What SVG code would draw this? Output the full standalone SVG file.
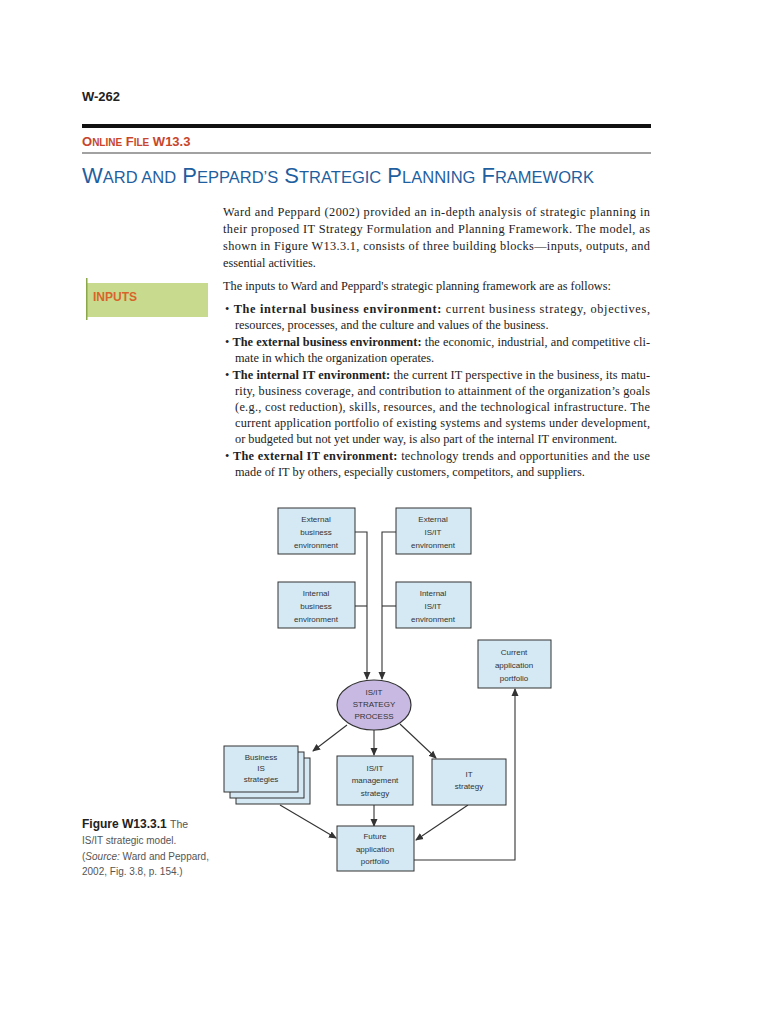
<svg xmlns="http://www.w3.org/2000/svg" width="768" height="1024" viewBox="0 0 768 1024">
<defs>
<marker id="ah" markerWidth="8" markerHeight="8" refX="7" refY="4" orient="auto" markerUnits="userSpaceOnUse"><path d="M0,0.5 L8,4 L0,7.5 Z" fill="#333"/></marker>
<style>
.b{font-family:"Liberation Serif",serif;font-size:12.3px;fill:#222}
.bb{font-weight:bold}
.h{font-family:"Liberation Sans",sans-serif}
.box{fill:#d4e9f4;stroke:#333;stroke-width:1}
.nt{font-family:"Liberation Sans",sans-serif;font-size:8px;fill:#333;text-anchor:middle}
.cn{fill:none;stroke:#333;stroke-width:1.1}
.cap{font-family:"Liberation Sans",sans-serif;font-size:10px;fill:#555}
</style>
</defs>
<rect width="768" height="1024" fill="#fff"/>
<text x="82" y="101" class="h" font-size="13" font-weight="bold" fill="#222">W-262</text>
<rect x="82" y="124" width="569" height="4" fill="#111"/>
<text x="82" y="146" class="h" font-weight="bold" fill="#c8462b" font-size="13">O<tspan font-size="10">NLINE</tspan> F<tspan font-size="10">ILE</tspan> W13.3</text>
<rect x="82" y="152.5" width="569" height="1" fill="#444"/>
<text x="82" y="183" class="h" fill="#1f5fa0" font-size="22">W<tspan font-size="16.5">ARD AND</tspan> P<tspan font-size="16.5">EPPARD’S</tspan> S<tspan font-size="16.5">TRATEGIC</tspan> P<tspan font-size="16.5">LANNING</tspan> F<tspan font-size="16.5">RAMEWORK</tspan></text>
<g class="b">
<text x="223" y="216" textLength="427" lengthAdjust="spacing">Ward and Peppard (2002) provided an in-depth analysis of strategic planning in</text>
<text x="223" y="233" textLength="427" lengthAdjust="spacing">their proposed IT Strategy Formulation and Planning Framework. The model, as</text>
<text x="223" y="250" textLength="427" lengthAdjust="spacing">shown in Figure W13.3.1, consists of three building blocks—inputs, outputs, and</text>
<text x="223" y="267">essential activities.</text>
<text x="223" y="290">The inputs to Ward and Peppard's strategic planning framework are as follows:</text>
<text x="225" y="313" textLength="425" lengthAdjust="spacing">• <tspan class="bb">The internal business environment:</tspan> current business strategy, objectives,</text>
<text x="235" y="329">resources, processes, and the culture and values of the business.</text>
<text x="225" y="346" textLength="425" lengthAdjust="spacing">• <tspan class="bb">The external business environment:</tspan> the economic, industrial, and competitive cli-</text>
<text x="235" y="362">mate in which the organization operates.</text>
<text x="225" y="379" textLength="425" lengthAdjust="spacing">• <tspan class="bb">The internal IT environment:</tspan> the current IT perspective in the business, its matu-</text>
<text x="235" y="395" textLength="415" lengthAdjust="spacing">rity, business coverage, and contribution to attainment of the organization’s goals</text>
<text x="235" y="411" textLength="415" lengthAdjust="spacing">(e.g., cost reduction), skills, resources, and the technological infrastructure. The</text>
<text x="235" y="427" textLength="415" lengthAdjust="spacing">current application portfolio of existing systems and systems under development,</text>
<text x="235" y="443">or budgeted but not yet under way, is also part of the internal IT environment.</text>
<text x="225" y="460" textLength="425" lengthAdjust="spacing">• <tspan class="bb">The external IT environment:</tspan> technology trends and opportunities and the use</text>
<text x="235" y="476">made of IT by others, especially customers, competitors, and suppliers.</text>
</g>
<rect x="86" y="283" width="122" height="34" fill="#c8da8e"/>
<rect x="86" y="278" width="1.5" height="42" fill="#8aa84a"/>
<text x="93" y="301" class="h" font-size="12" font-weight="bold" fill="#d8642a">INPUTS</text>
<text x="82" y="828" class="h" font-size="12" fill="#222"><tspan font-weight="bold">Figure W13.3.1</tspan> <tspan font-size="10.5" fill="#555">The</tspan></text>
<text x="82" y="844" class="cap" font-size="10.5">IS/IT strategic model.</text>
<text x="82" y="860" class="cap" font-size="9.5">(<tspan font-style="italic">Source:</tspan> Ward and Peppard,</text>
<text x="82" y="875" class="cap" font-size="9.5">2002, Fig. 3.8, p. 154.)</text>
<g id="connectors">
<polyline class="cn" points="355,532 367,532 367,679" marker-end="url(#ah)"/>
<polyline class="cn" points="355,606 367,606"/>
<polyline class="cn" points="396,532 382,532 382,679" marker-end="url(#ah)"/>
<polyline class="cn" points="396,606 382,606"/>
<line class="cn" x1="347" y1="725" x2="313" y2="751" marker-end="url(#ah)"/>
<line class="cn" x1="374" y1="730" x2="374" y2="755" marker-end="url(#ah)"/>
<line class="cn" x1="400" y1="724" x2="436" y2="758" marker-end="url(#ah)"/>
<line class="cn" x1="280" y1="805" x2="336" y2="838" marker-end="url(#ah)"/>
<line class="cn" x1="374" y1="805" x2="374" y2="826" marker-end="url(#ah)"/>
<line class="cn" x1="468" y1="805" x2="416" y2="840" marker-end="url(#ah)"/>
<polyline class="cn" points="414,860 515,860 515,689" marker-end="url(#ah)"/>
</g>
<g id="ext-business"><rect class="box" x="278" y="508" width="77" height="46"/><text class="nt" x="316" y="522">External</text><text class="nt" x="316" y="535">business</text><text class="nt" x="316" y="548">environment</text></g>
<g id="ext-isit"><rect class="box" x="396" y="508" width="75" height="46"/><text class="nt" x="433" y="522">External</text><text class="nt" x="433" y="535">IS/IT</text><text class="nt" x="433" y="548">environment</text></g>
<g id="int-business"><rect class="box" x="278" y="582" width="77" height="46"/><text class="nt" x="316" y="596">Internal</text><text class="nt" x="316" y="609">business</text><text class="nt" x="316" y="622">environment</text></g>
<g id="int-isit"><rect class="box" x="396" y="582" width="75" height="46"/><text class="nt" x="433" y="596">Internal</text><text class="nt" x="433" y="609">IS/IT</text><text class="nt" x="433" y="622">environment</text></g>
<g id="current-app"><rect class="box" x="478" y="640" width="73" height="48"/><text class="nt" x="514" y="655">Current</text><text class="nt" x="514" y="668">application</text><text class="nt" x="514" y="681">portfolio</text></g>
<g id="process"><ellipse cx="374" cy="705" rx="37" ry="25" fill="#c7b9e2" stroke="#333" stroke-width="1.2"/><text class="nt" x="374" y="695">IS/IT</text><text class="nt" x="374" y="707">STRATEGY</text><text class="nt" x="374" y="719">PROCESS</text></g>
<g id="business-is"><rect class="box" x="236" y="758" width="74" height="46" stroke-width="1.5"/><rect class="box" x="230" y="752" width="74" height="46" stroke-width="1.5"/><rect class="box" x="224" y="746" width="74" height="46" stroke-width="1.5"/><text class="nt" x="261" y="760">Business</text><text class="nt" x="261" y="771">IS</text><text class="nt" x="261" y="782">strategies</text></g>
<g id="mgmt"><rect class="box" x="337" y="756" width="76" height="49" stroke-width="1.5"/><text class="nt" x="375" y="771">IS/IT</text><text class="nt" x="375" y="783">management</text><text class="nt" x="375" y="796">strategy</text></g>
<g id="it-strategy"><rect class="box" x="432" y="759" width="74" height="46"/><text class="nt" x="469" y="777">IT</text><text class="nt" x="469" y="789">strategy</text></g>
<g id="future"><rect class="box" x="337" y="826" width="77" height="45"/><text class="nt" x="375" y="839">Future</text><text class="nt" x="375" y="852">application</text><text class="nt" x="375" y="864">portfolio</text></g>
</svg>
